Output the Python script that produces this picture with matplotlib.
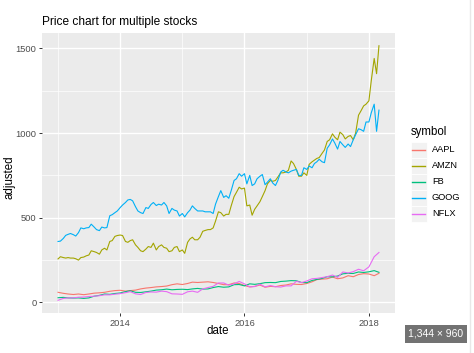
import numpy as np
import pandas as pd
import matplotlib
matplotlib.use("Agg")
import matplotlib.pyplot as plt
import matplotlib.dates as mdates
from matplotlib.patches import Rectangle

plt.rcParams['font.family'] = ['Liberation Sans', 'DejaVu Sans']

symbols = ["AAPL", "AMZN", "FB", "GOOG", "NFLX"]
colors = ["#F8766D", "#A3A500", "#00BF7D", "#00B0F6", "#E76BF3"]

semi_dates = pd.date_range("2013-01-01", "2018-03-01", freq="SMS")
month_dates = pd.date_range("2013-01-01", "2018-03-01", freq="MS")

goog = [
    360, 362, 378, 396, 402, 407, 400, 392, 412, 440, 435, 440,
    442, 462, 445, 430, 424, 445, 440, 442, 512, 518, 530, 540,
    560, 575, 590, 605, 608, 600, 565, 540, 530, 525, 560, 555,
    578, 590, 572, 580, 575, 590, 570, 525, 555, 545, 540, 510,
    525, 505, 530, 545, 570, 555, 540, 540, 540, 535, 535, 535,
    525, 580, 625, 660, 620, 630, 615, 660, 720, 730, 760, 745,
    760, 700, 750, 690, 700, 730, 745, 755, 695, 710, 730, 705,
    690, 720, 770, 780, 770, 765, 775, 780, 785, 750, 750, 795,
    785, 805, 795, 820, 830, 845, 830, 825, 910, 930, 965, 940,
    905, 950, 930, 915, 935, 920, 960, 990, 1025, 1020, 1010, 1065,
    1065, 1120, 1170, 1010, 1135,
]
amzn = [
    257, 270, 265, 262, 265, 262, 262, 258, 250, 265, 268, 275,
    280, 305, 300, 295, 285, 310, 320, 310, 360, 365, 390, 395,
    398, 395, 360, 355, 365, 370, 340, 325, 305, 300, 315, 330,
    325, 350, 310, 330, 340, 325, 320, 300, 305, 325, 330, 300,
    310, 290, 355, 375, 385, 370, 370, 385, 420, 425, 430, 430,
    440, 480, 535, 530, 510, 520, 520, 570, 625, 650, 680, 670,
    675, 570, 575, 515, 550, 570, 595, 625, 660, 700, 720, 715,
    720, 740, 765, 765, 770, 780, 835, 820, 785, 745, 745, 765,
    750, 815, 830, 840, 850, 855, 880, 900, 950, 960, 995, 975,
    960, 1005, 990, 965, 980, 985, 960, 1000, 1105, 1130, 1160, 1170,
    1190, 1310, 1440, 1350, 1515,
]
aapl = [
    60, 54, 50, 47, 50, 46, 50, 55, 57, 60, 66, 70,
    72, 67, 70, 73, 80, 85, 88, 92, 94, 97, 105, 110,
    106, 112, 120, 118, 120, 122, 118, 112, 105, 105, 115, 112,
    100, 92, 95, 103, 90, 95, 93, 100, 103, 110, 107, 106,
    112, 122, 135, 138, 140, 150, 140, 145, 158, 152, 165, 170,
    168, 158, 172,
]
fb = [
    28, 30, 27, 26, 27, 24, 27, 37, 42, 50, 48, 53,
    56, 64, 69, 60, 59, 63, 67, 73, 75, 79, 75, 77,
    78, 76, 80, 83, 79, 80, 88, 94, 90, 92, 105, 106,
    98, 110, 107, 111, 117, 118, 117, 124, 126, 129, 128, 118,
    117, 130, 136, 142, 152, 151, 156, 169, 172, 171, 180, 177,
    181, 188, 178,
]
nflx = [
    13, 24, 27, 27, 31, 32, 35, 37, 40, 45, 45, 49,
    52, 58, 64, 51, 47, 59, 62, 61, 67, 64, 51, 50,
    48, 63, 67, 60, 80, 88, 95, 115, 115, 102, 110, 124,
    110, 92, 94, 108, 92, 100, 93, 91, 98, 98, 125, 117,
    127, 140, 142, 147, 152, 162, 148, 180, 174, 182, 196, 187,
    210, 270, 295,
]

series = {
    "AAPL": (month_dates, aapl),
    "AMZN": (semi_dates, amzn),
    "FB": (month_dates, fb),
    "GOOG": (semi_dates, goog),
    "NFLX": (month_dates, nflx),
}

W, H = 474, 353
fig = plt.figure(figsize=(W / 100, H / 100), dpi=100)
fig.patch.set_facecolor("white")
ax = fig.add_axes([42 / W, 1 - 313 / H, (395 - 42) / W, (313 - 33) / H])
ax.set_facecolor("#EBEBEB")

for sym, col in zip(symbols, colors):
    d, v = series[sym]
    ax.plot(d, v, color=col, lw=0.8, zorder=3)

# limits with 5% expansion like ggplot
xmin = mdates.date2num(pd.Timestamp("2013-01-01"))
xmax = mdates.date2num(pd.Timestamp("2018-03-01"))
allv = aapl + amzn + fb + goog + nflx
ymin, ymax = min(allv), max(allv)
dx = (xmax - xmin) * 0.05
dy = (ymax - ymin) * 0.05
ax.set_xlim(xmin - dx, xmax + dx)
ax.set_ylim(ymin - dy, ymax + dy)

ax.set_yticks([0, 500, 1000, 1500])
ax.set_yticks([250, 750, 1250], minor=True)
ax.set_xticks([mdates.date2num(pd.Timestamp(f"{y}-01-01")) for y in (2014, 2016, 2018)])
ax.set_xticklabels(["2014", "2016", "2018"])
ax.set_xticks([mdates.date2num(pd.Timestamp(f"{y}-01-01")) for y in (2013, 2015, 2017)], minor=True)

ax.grid(which="major", color="white", lw=1.0, zorder=1)
ax.grid(which="minor", color="white", lw=0.5, zorder=1)
ax.set_axisbelow(True)
for s in ax.spines.values():
    s.set_visible(False)
ax.tick_params(which="major", length=2.5, width=0.7, color="#333333",
               labelsize=6.7, labelcolor="#4D4D4D", pad=1.5)
ax.tick_params(which="minor", length=0)

ax.set_xlabel("date", fontsize=8.3, color="black")
ax.xaxis.set_label_coords((218 - 42) / (395 - 42), -(331 - 313) / (313 - 33))
ax.xaxis.label.set_va("center")
ax.set_ylabel("adjusted", fontsize=8.3, color="black")
ax.yaxis.set_label_coords(-(42 - 10) / (395 - 42), (313 - 177) / (313 - 33))
ax.yaxis.label.set_va("center")

fig.text(42 / W, 1 - 22.5 / H, "Price chart for multiple stocks", fontsize=8.6,
         color="black", ha="left", va="center")

# legend drawn in a pixel-coordinate overlay axes
lax = fig.add_axes([0, 0, 1, 1], facecolor="none")
lax.set_xlim(0, W)
lax.set_ylim(H, 0)
lax.axis("off")
lax.text(411, 132, "symbol", fontsize=8.3, ha="left", va="center")
key_h = 16
for i, (sym, col) in enumerate(zip(symbols, colors)):
    yc = 149.5 + i * key_h
    lax.add_patch(Rectangle((411, yc - key_h / 2), 16, key_h, facecolor="#F2F2F2",
                            edgecolor="white", lw=0.6, zorder=1))
    lax.plot([412.5, 425.5], [yc, yc], color=col, lw=1.0, zorder=2)
    lax.text(432, yc, sym, fontsize=6.7, color="black", ha="left", va="center")

# screenshot size badge
lax.text(436, 334, "1,344 \u00d7 960", fontsize=7.5, color="white",
         ha="center", va="center",
         bbox=dict(boxstyle="square,pad=0.35", facecolor="#727272", edgecolor="none"))
lax.plot([470, 470], [0, H], color="#E8E8E8", lw=1.0)

fig.savefig("out.png", dpi=100, facecolor="white")
